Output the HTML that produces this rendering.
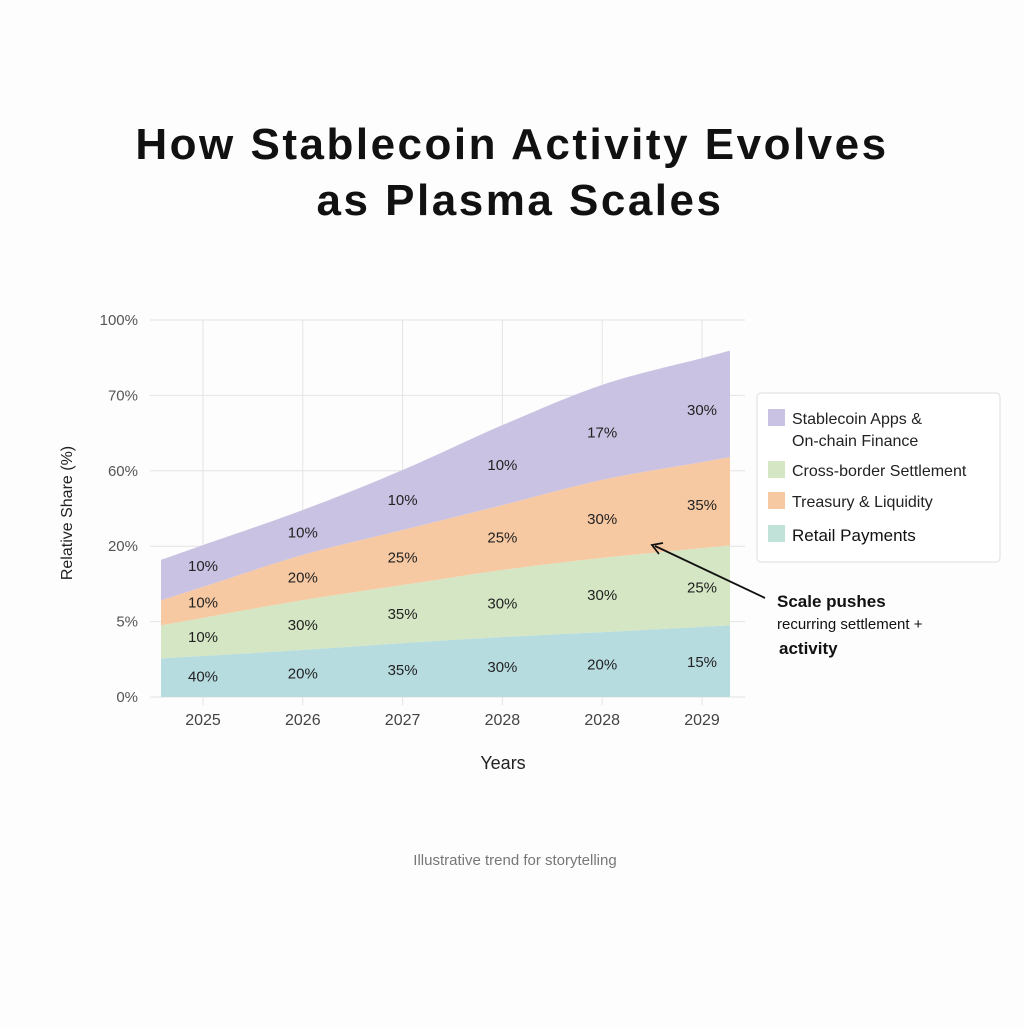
<!DOCTYPE html>
<html><head><meta charset="utf-8"><style>
body{margin:0;background:#fdfdfd;}
svg text{font-family:"Liberation Sans",sans-serif;}
</style></head><body>
<svg id="c" width="1024" height="1024" viewBox="0 0 1024 1024">
<rect width="1024" height="1024" fill="#fdfdfd"/>
<text x="512" y="159" text-anchor="middle" font-size="44" font-weight="bold" letter-spacing="2.5" fill="#111">How Stablecoin Activity Evolves</text>
<text x="520" y="215" text-anchor="middle" font-size="44" font-weight="bold" letter-spacing="2.5" fill="#111">as Plasma Scales</text>
<g id="grid"></g>
<g id="areas"></g>
<g id="labels"></g>
<text x="72" y="513" text-anchor="middle" font-size="16" fill="#222" transform="rotate(-90 72 513)">Relative Share (%)</text>
<text x="503" y="769" text-anchor="middle" font-size="18" fill="#222">Years</text>
<g>
<rect x="757" y="393" width="243" height="169" rx="4" fill="#fff" stroke="#ddd"/>
<rect x="768" y="409" width="17" height="17" fill="#c9c2e2"/>
<text x="792" y="424" font-size="16" fill="#222">Stablecoin Apps &amp;</text>
<text x="792" y="446" font-size="16" fill="#222">On-chain Finance</text>
<rect x="768" y="461" width="17" height="17" fill="#d4e6c3"/>
<text x="792" y="476" font-size="16" fill="#222">Cross-border Settlement</text>
<rect x="768" y="492" width="17" height="17" fill="#f7c9a3"/>
<text x="792" y="507" font-size="16" fill="#222">Treasury &amp; Liquidity</text>
<rect x="768" y="525" width="17" height="17" fill="#c0e2d8"/>
<text x="792" y="541" font-size="17" fill="#111">Retail Payments</text>
</g>
<g>
<line x1="765" y1="598" x2="655" y2="546" stroke="#111" stroke-width="1.8"/>
<path d="M663,543 L652,545 L659,554" fill="none" stroke="#111" stroke-width="1.8"/>
<text x="777" y="607" font-size="17" font-weight="bold" fill="#111">Scale pushes</text>
<text x="777" y="629" font-size="15" fill="#111">recurring settlement +</text>
<text x="779" y="654" font-size="17" font-weight="bold" fill="#111">activity</text>
</g>
<text x="515" y="865" text-anchor="middle" font-size="15" fill="#777">Illustrative trend for storytelling</text>
</svg>
<script>
const years=["2025","2026","2027","2028","2028","2029"];
const yTicks=["0%","5%","20%","60%","70%","100%"];
const retail=[10.9,12.5,14.3,15.9,17.2,18.6];
const crossborder=[10.1,13.2,15.4,17.8,19.7,20.9];
const treasury=[8.2,12.0,14.6,17.2,20.7,22.8];
const apps=[11.1,11.9,15.9,21.2,25.2,27.6];
const retailLabels=["40%","20%","35%","30%","20%","15%"];
const crossLabels=["10%","30%","35%","30%","30%","25%"];
const treasuryLabels=["10%","20%","25%","25%","30%","35%"];
const appsLabels=["10%","10%","10%","10%","17%","30%"];

const NS="http://www.w3.org/2000/svg";
const X=i=>203+i*99.8;
const Y=v=>697-v*3.77;
function mk(t,a,p){const e=document.createElementNS(NS,t);for(const k in a)e.setAttribute(k,a[k]);p.appendChild(e);return e;}
const grid=document.getElementById('grid');
yTicks.forEach((t,i)=>{const y=Y(i*20);
 const l=mk('line',{x1:150,x2:745,y1:y,y2:y,stroke:'#e4e4e4'},grid);
 
 const tx=mk('text',{x:138,y:y+5,'text-anchor':'end','font-size':15,fill:'#555'},grid);tx.textContent=t;
 });
years.forEach((t,i)=>{const x=X(i);
 const l=mk('line',{x1:x,x2:x,y1:320,y2:705,stroke:'#e4e4e4'},grid);
 
 const tx=mk('text',{x:x,y:725,'text-anchor':'middle','font-size':16,fill:'#444'},grid);tx.textContent=t;
 });
const layers=[[retail,'#b7dce0',retailLabels,'retail'],[crossborder,'#d4e6c3',crossLabels,'crossborder'],[treasury,'#f7c9a3',treasuryLabels,'treasury'],[apps,'#c9c2e2',appsLabels,'apps']];
let base=years.map(()=>0);
function pts(vals){const p=vals.map((v,i)=>[X(i),Y(v)]);
 const s0=(p[1][1]-p[0][1])/(p[1][0]-p[0][0]),n=p.length,s1=(p[n-1][1]-p[n-2][1])/(p[n-1][0]-p[n-2][0]);
 p.unshift([161,p[0][1]-s0*42]);p.push([730,p[p.length-1][1]+s1*28]);return p;}
function curve(p){let d='';for(let i=0;i<p.length-1;i++){const a=p[Math.max(i-1,0)],b=p[i],c=p[i+1],e=p[Math.min(i+2,p.length-1)];
 const c1=[b[0]+(c[0]-a[0])/6,b[1]+(c[1]-a[1])/6],c2=[c[0]-(e[0]-b[0])/6,c[1]-(e[1]-b[1])/6];
 d+=` C${c1[0]},${c1[1]} ${c2[0]},${c2[1]} ${c[0]},${c[1]}`;}return d;}
const ag=document.getElementById('areas'),lg=document.getElementById('labels');
layers.forEach(([vals,col,labs,nm])=>{
 const top=base.map((b,i)=>b+vals[i]);
 const tp=pts(top),bp=pts(base).reverse();
 let d=`M${tp[0][0]},${tp[0][1]}`+curve(tp)+` L${bp[0][0]},${bp[0][1]}`+curve(bp)+'Z';
 if(base.every(v=>v===0))d=`M${tp[0][0]},${tp[0][1]}`+curve(tp)+` L730,697 L161,697Z`;
 const a=mk('path',{d:d,fill:col},ag);
 
 labs.forEach((t,i)=>{const tx=mk('text',{x:X(i),y:Y((base[i]+top[i])/2)+5,'text-anchor':'middle','font-size':15,fill:'#222'},lg);tx.textContent=t;
  });
 base=top;});
</script>
</body></html>
